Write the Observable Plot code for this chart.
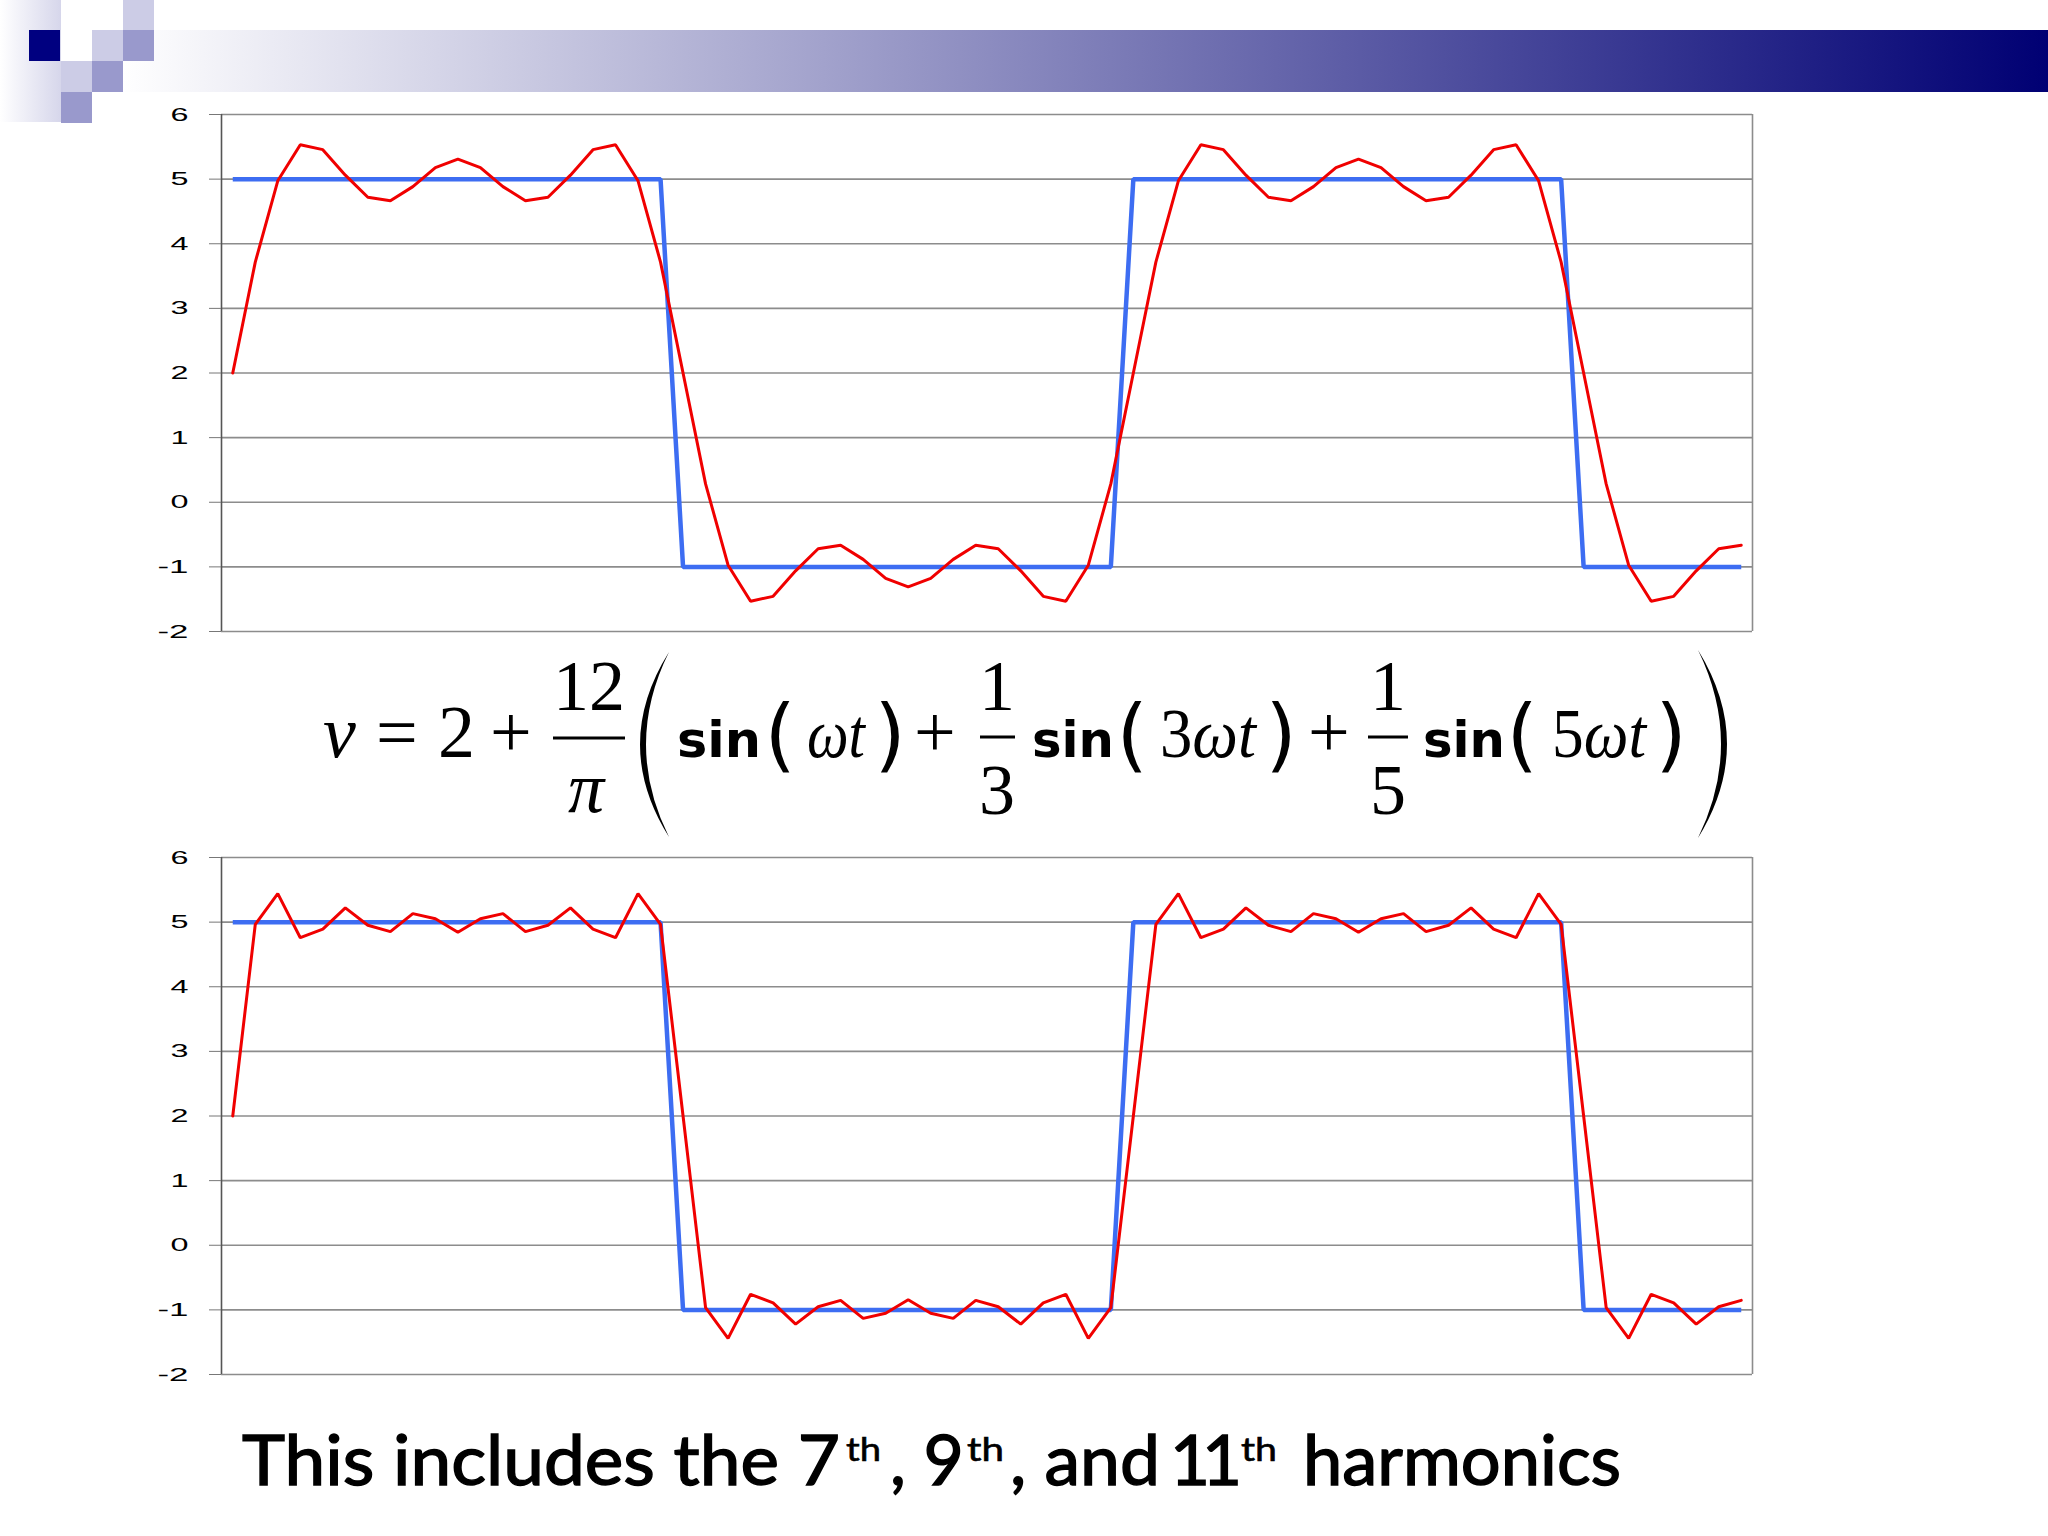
<!DOCTYPE html>
<html><head><meta charset="utf-8">
<script src="https://cdn.jsdelivr.net/npm/d3@7"></script>
<script src="https://cdn.jsdelivr.net/npm/@observablehq/plot@0.6"></script>
<style>
html,body{margin:0;padding:0;background:#fff;}
#page{position:relative;width:2048px;height:1536px;overflow:hidden;background:#fff;}
.abs{position:absolute;}
.sq{position:absolute;width:31px;height:31px;}
#topChart svg text, #bottomChart svg text{font-size:19px;font-family:'Liberation Sans',Arial,sans-serif;}
</style></head><body><div id="page">
<div class="abs" style="left:0;top:30px;width:2048px;height:62px;background:linear-gradient(90deg,#ffffff 120px,#000073 2048px)"></div>
<div class="abs" style="left:0;top:0;width:61px;height:122px;background:linear-gradient(90deg,#ffffff,#d6d6eb)"></div>
<div class="sq" style="left:29px;top:30px;background:#000080"></div>
<div class="sq" style="left:123px;top:0px;background:#ccccE6"></div>
<div class="sq" style="left:92px;top:30px;background:#ccccE6"></div>
<div class="sq" style="left:123px;top:30px;background:#9999cc"></div>
<div class="sq" style="left:61px;top:61px;background:#ccccE6"></div>
<div class="sq" style="left:92px;top:61px;background:#9999cc"></div>
<div class="sq" style="left:61px;top:92px;background:#9999cc"></div>
<div id="topChart" class="abs" style="left:0;top:94px;width:1800px;"></div>
<div id="bottomChart" class="abs" style="left:0;top:837px;width:1800px;"></div>
<svg class="abs" style="left:0;top:0;pointer-events:none" width="2048" height="1536" xmlns="http://www.w3.org/2000/svg">
 <g font-family="'Liberation Serif','Times New Roman',serif" fill="#000">
  <text x="323" y="757" font-size="74" font-style="italic">v</text>
  <text x="376" y="757" font-size="74">=</text>
  <text x="438" y="757" font-size="74">2</text>
  <text x="490" y="757" font-size="74">+</text>
  <text x="589" y="710" font-size="72" text-anchor="middle">12</text>
  <rect x="553" y="736.5" width="72" height="3"/>
  <text x="586" y="812" font-size="72" font-style="italic" text-anchor="middle">π</text>
  <path d="M669,652 Q611,744.5 669,837 Q623,744.5 669,652 Z"/>
  <text x="807" y="757" font-size="70" font-style="italic" textLength="58" lengthAdjust="spacingAndGlyphs">ωt</text>
  <text x="914" y="757" font-size="74">+</text>
  <text x="997" y="710" font-size="72" text-anchor="middle">1</text>
  <rect x="980" y="735.5" width="35" height="3"/>
  <text x="997" y="814" font-size="72" text-anchor="middle">3</text>
  <text x="1160" y="757" font-size="70" font-style="italic" textLength="96" lengthAdjust="spacingAndGlyphs"><tspan font-style="normal">3</tspan>ωt</text>
  <text x="1308" y="757" font-size="74">+</text>
  <text x="1388" y="710" font-size="72" text-anchor="middle">1</text>
  <rect x="1368" y="735.5" width="40" height="3"/>
  <text x="1388" y="814" font-size="72" text-anchor="middle">5</text>
  <text x="1552" y="757" font-size="70" font-style="italic" textLength="94" lengthAdjust="spacingAndGlyphs"><tspan font-style="normal">5</tspan>ωt</text>
  <path d="M1698,650 Q1756,744 1698,838 Q1744,744 1698,650 Z"/>
 </g>
 <g font-family="'DejaVu Sans',sans-serif" fill="#000">
  <text x="677" y="757" font-size="50" font-weight="bold" textLength="84" lengthAdjust="spacingAndGlyphs">sin</text>
  <text x="780" y="762" font-size="80" text-anchor="middle">(</text>
  <text x="890" y="762" font-size="80" text-anchor="middle">)</text>
  <text x="1032" y="757" font-size="50" font-weight="bold" textLength="82" lengthAdjust="spacingAndGlyphs">sin</text>
  <text x="1132" y="762" font-size="80" text-anchor="middle">(</text>
  <text x="1281" y="762" font-size="80" text-anchor="middle">)</text>
  <text x="1423" y="757" font-size="50" font-weight="bold" textLength="82" lengthAdjust="spacingAndGlyphs">sin</text>
  <text x="1522" y="762" font-size="80" text-anchor="middle">(</text>
  <text x="1671" y="762" font-size="80" text-anchor="middle">)</text>
 </g>
 <g font-family="Lato,'Open Sans',sans-serif" font-weight="400" fill="#000" stroke="#000" stroke-width="1.4">
  <text x="242" y="1485" font-size="69" textLength="598" lengthAdjust="spacingAndGlyphs">This includes the 7</text>
  <text x="846" y="1461" font-size="33" stroke-width="0.6" textLength="35" lengthAdjust="spacingAndGlyphs">th</text>
  <text x="890" y="1485" font-size="69" textLength="74" lengthAdjust="spacingAndGlyphs">, 9</text>
  <text x="967" y="1461" font-size="33" stroke-width="0.6" textLength="37" lengthAdjust="spacingAndGlyphs">th</text>
  <text x="1010" y="1485" font-size="69" textLength="150" lengthAdjust="spacingAndGlyphs">, and</text>
  <text x="1170" y="1485" font-size="69" letter-spacing="-8">11</text>
  <text x="1241" y="1461" font-size="33" stroke-width="0.6" textLength="36" lengthAdjust="spacingAndGlyphs">th</text>
  <text x="1303" y="1485" font-size="69" textLength="318" lengthAdjust="spacingAndGlyphs">harmonics</text>
 </g>
</svg>
</div>
<script>
// y-axis tick values
const yTicks = [-2, -1, 0, 1, 2, 3, 4, 5, 6];

// square wave (blue), 68 samples
const squareWave = [
  5,5,5,5,5,5,5,5,5,5,5,5,5,5,5,5,5,5,5,5,
  -1,-1,-1,-1,-1,-1,-1,-1,-1,-1,-1,-1,-1,-1,-1,-1,-1,-1,-1,-1,
  5,5,5,5,5,5,5,5,5,5,5,5,5,5,5,5,5,5,5,5,
  -1,-1,-1,-1,-1,-1,-1,-1
];

// red series, top chart (fundamental + 3rd + 5th)
const topSeries = [
  2, 3.716, 4.974, 5.532, 5.456, 5.061, 4.720, 4.664, 4.884, 5.178,
  5.310, 5.178, 4.884, 4.664, 4.720, 5.061, 5.456, 5.532, 4.974, 3.716,
  2, 0.284, -0.974, -1.532, -1.456, -1.061, -0.720, -0.664, -0.884, -1.178,
  -1.310, -1.178, -0.884, -0.664, -0.720, -1.061, -1.456, -1.532, -0.974, 0.284,
  2, 3.716, 4.974, 5.532, 5.456, 5.061, 4.720, 4.664, 4.884, 5.178,
  5.310, 5.178, 4.884, 4.664, 4.720, 5.061, 5.456, 5.532, 4.974, 3.716,
  2, 0.284, -0.974, -1.532, -1.456, -1.061, -0.720, -0.664
];

// red series, bottom chart (up to 11th harmonic)
const bottomSeries = [
  2, 4.964, 5.440, 4.759, 4.892, 5.221, 4.951, 4.853, 5.132, 5.051,
  4.842, 5.051, 5.132, 4.853, 4.951, 5.221, 4.892, 4.759, 5.440, 4.964,
  2, -0.964, -1.440, -0.759, -0.892, -1.221, -0.951, -0.853, -1.132, -1.051,
  -0.842, -1.051, -1.132, -0.853, -0.951, -1.221, -0.892, -0.759, -1.440, -0.964,
  2, 4.964, 5.440, 4.759, 4.892, 5.221, 4.951, 4.853, 5.132, 5.051,
  4.842, 5.051, 5.132, 4.853, 4.951, 5.221, 4.892, 4.759, 5.440, 4.964,
  2, -0.964, -1.440, -0.759, -0.892, -1.221, -0.951, -0.853
];

function makeChart(redValues) {
  const n = squareWave.length;
  const blueRows = squareWave.map((v, k) => ({k, v}));
  const redRows = redValues.map((v, k) => ({k, v}));
  const svg = Plot.plot({
    width: 1800,
    height: 557,
    marginLeft: 221,
    marginRight: 48,
    marginTop: 20,
    marginBottom: 20,
    style: {fontFamily: "'Liberation Sans', Arial, sans-serif", fontSize: "19px", background: "transparent", overflow: "visible", maxWidth: "none"},
    x: {domain: [-0.5, n - 0.5], axis: null},
    y: {domain: [-2, 6], axis: null},
    marks: [
      Plot.ruleY(yTicks, {stroke: "#8c8c8c", strokeWidth: 1.6}),
      Plot.ruleX([n - 0.5], {stroke: "#8c8c8c", strokeWidth: 1.6}),
      Plot.ruleX([-0.5], {stroke: "#555", strokeWidth: 1.6}),
      Plot.axisY({ticks: yTicks, tickSize: 12, tickPadding: 21, tickFormat: d => String(d), fontSize: 19, stroke: "#777", fill: "#000", label: null}),
      Plot.line(blueRows, {x: "k", y: "v", stroke: "#3d6df2", strokeWidth: 4.5, strokeLinecap: "butt", strokeLinejoin: "miter"}),
      Plot.line(redRows, {x: "k", y: "v", stroke: "#f00000", strokeWidth: 3, strokeLinejoin: "miter"})
    ]
  });
  // the reference tick labels are drawn horizontally stretched
  d3.select(svg).selectAll("text").each(function() {
    const t = this.textContent;
    if (/^-?\d$/.test(t)) {
      this.setAttribute("textLength", t.startsWith("-") ? 31 : 18);
      this.setAttribute("lengthAdjust", "spacingAndGlyphs");
    }
  });
  return svg;
}

document.getElementById("topChart").appendChild(makeChart(topSeries));
document.getElementById("bottomChart").appendChild(makeChart(bottomSeries));
</script>
</body></html>
